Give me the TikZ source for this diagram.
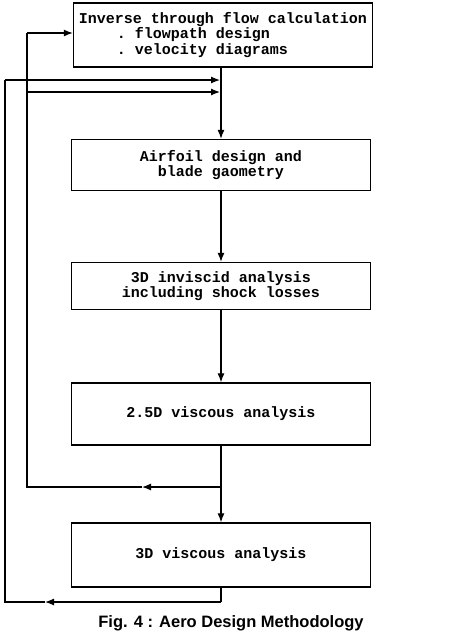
\documentclass[tikz,border=0pt]{standalone}
\usepackage{fontspec}
\setmainfont{Liberation Sans}
\setmonofont{Liberation Mono}
\usetikzlibrary{arrows.meta}

\begin{document}
\begin{tikzpicture}[x=1pt, y=-1pt, >={Latex[length=9pt,width=7pt]}, line width=1.2pt,
    stepbox/.style={draw, line width=1.3pt, minimum width=299pt, inner sep=0pt,
        align=center, font=\ttfamily\bfseries\fontsize{15}{15.5}\selectfont}]
    % Page size in pixels of the scan: 1 unit = 1pt
    \useasboundingbox (0,0) rectangle (474,633);

    % --- BOXES ---
    \node[stepbox, minimum height=64pt, align=left] (infl) at (223,35)
        {Inverse through flow calculation\\
         \hspace*{38pt}. flowpath design\\
         \hspace*{38pt}. velocity diagrams};
    \node[stepbox, minimum height=51pt] (airfoil) at (221,165) {Airfoil design and\\blade gaometry};
    \node[stepbox, minimum height=47pt] (invisc) at (221,286) {3D inviscid analysis\\including shock losses};
    \node[stepbox, minimum height=62pt] (visc25) at (221,414) {2.5D viscous analysis};
    \node[stepbox, minimum height=64pt] (visc3) at (221,555) {3D viscous analysis};

    % Coordinates of the loop corners
    \coordinate (SplitA) at (221,487); % branch below 2.5D box
    \coordinate (InL) at (27,487);     % inner loop, lower corner
    \coordinate (InTop) at (27,33);    % inner loop, upper corner
    \coordinate (InB) at (27,92);      % inner loop, second feed
    \coordinate (JoinB) at (220,92);
    \coordinate (OutB) at (221,602);   % below 3D viscous box
    \coordinate (OutL) at (5,602);     % outer loop, lower corner
    \coordinate (OutTop) at (5,80);    % outer loop, upper corner
    \coordinate (JoinA) at (220,80);

    % --- MAIN CHAIN ---
    \draw[->] (infl.south -| airfoil.north) -- (airfoil.north);
    \foreach \a/\b in {airfoil/invisc, invisc/visc25, visc25/visc3}
        \draw[->] (\a.south) -- (\b.north);

    % --- FEEDBACK LOOPS ---
    % inner loop: back from the 2.5D analysis
    \draw[->] (SplitA) -- (142,487);
    \draw (142,487) -- (InL) -- (InTop);
    \draw[->] (InTop) -- (infl.west |- InTop);
    \draw[->] (InB) -- (JoinB);

    % outer loop: back from the 3D viscous analysis
    \draw (visc3.south) -- (OutB);
    \draw[->] (OutB) -- (45,602);
    \draw (45,602) -- (OutL) -- (OutTop);
    \draw[->] (OutTop) -- (JoinA);

    % --- CAPTION ---
    \node[font=\bfseries\fontsize{16.5}{19}\selectfont] (caption) at (231,623) {Fig. 4 : Aero Design Methodology};
\end{tikzpicture}
\end{document}
